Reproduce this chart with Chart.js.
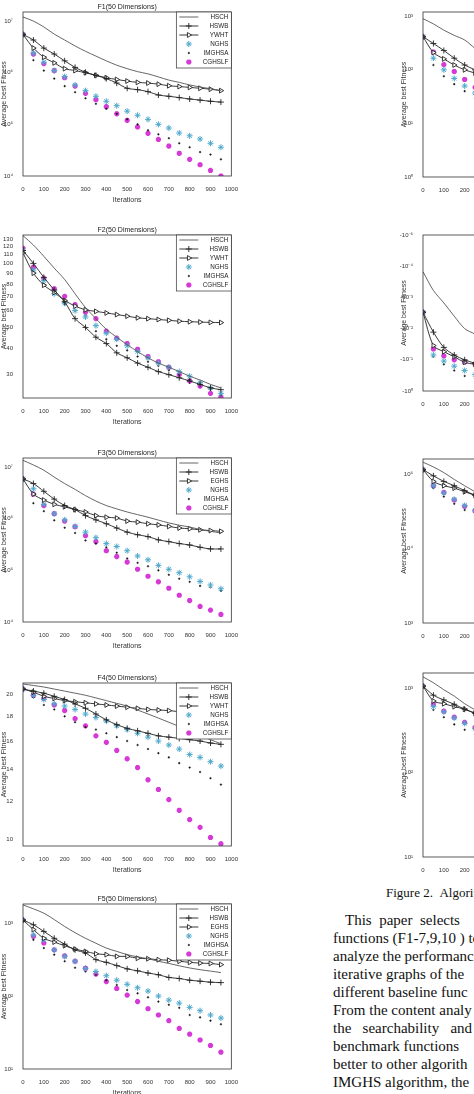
<!DOCTYPE html>
<html>
<head>
<meta charset="utf-8">
<script src="https://cdn.jsdelivr.net/npm/chart.js@4/dist/chart.umd.min.js"></script>
<style>
  html, body { margin:0; padding:0; background:#fff; width:474px; height:1094px; overflow:hidden; position:relative; }
  .box { position:absolute; }
  .txt { position:absolute; left:333px; top:911px; width:300px; font-family:"Liberation Serif","DejaVu Serif",serif; font-size:15px; line-height:18px; color:#111; white-space:nowrap; }
  .cap { position:absolute; left:386px; top:885px; font-family:"Liberation Serif",serif; font-size:13px; color:#111; white-space:nowrap; }
</style>
</head>
<body>
<div class="cap">Figure 2.&nbsp;&nbsp;Algorithm convergence</div>
<div class="txt">
<div style="text-indent:12px">This&nbsp;&nbsp;paper&nbsp;&nbsp;selects</div>
<div>functions (F1-7,9,10 ) to</div>
<div>analyze the performance</div>
<div>iterative graphs of the</div>
<div>different baseline func</div>
<div>From the content analy</div>
<div>the&nbsp;&nbsp;&nbsp;searchability&nbsp;&nbsp;&nbsp;and</div>
<div>benchmark functions</div>
<div>better to other algorith</div>
<div>IMGHS algorithm, the</div>
</div>

<script>
// iterations sampled every 50
var iters = [0,50,100,150,200,250,300,350,400,450,500,550,600,650,700,750,800,850,900,950];
var namesA = ['HSCH','HSWB','YWHT','NGHS','IMGHSA','CGHSLF'];
var namesB = ['HSCH','HSWB','EGHS','NGHS','IMGHSA','CGHSLF'];

// F1
var f1HSCH   = [1.2e7,1e7,7.7e6,5.6e6,4.3e6,3.3e6,2.6e6,2.1e6,1.7e6,1.4e6,1.2e6,1.05e6,9.5e5,8.3e5,7.2e5,6.5e5,5.8e5,5.3e5,4.9e5,4.5e5];
var f1HSWB   = [5.5e6,4.3e6,3e6,2.3e6,1.7e6,1.27e6,1.02e6,8.9e5,7.7e5,6.3e5,5e5,4.7e5,4.3e5,3.7e5,3.5e5,3.3e5,3.1e5,2.95e5,2.8e5,2.7e5];
var f1YWHT   = [5.5e6,3e6,2e6,1.55e6,1.2e6,1.1e6,1e6,8.9e5,8e5,7.4e5,6.9e5,6.5e5,6.3e5,6e5,5.6e5,5.4e5,5.2e5,5e5,4.8e5,4.5e5];
var f1NGHS   = [5.5e6,2.4e6,1.6e6,1.1e6,8.4e5,5.8e5,4.5e5,3.5e5,2.8e5,2.3e5,1.8e5,1.5e5,1.25e5,1e5,8.5e4,6.8e4,6e4,5.2e4,4.3e4,3.6e4];
var f1IMGHSA = [5.5e6,1.75e6,1.1e6,7.7e5,5.5e5,4.2e5,3.2e5,2.5e5,2e5,1.6e5,1.25e5,1e5,7.7e4,6.4e4,5.4e4,4.3e4,3.6e4,2.9e4,2.6e4,2.1e4];
var f1CGHSLF = [5.5e6,2.3e6,1.5e6,1.1e6,8e5,5.5e5,4e5,3e5,2.2e5,1.6e5,1.2e5,8.9e4,6.7e4,5.1e4,3.8e4,2.75e4,2.1e4,1.65e4,1.28e4,1e4];
// F2
var f2HSCH   = [135,122,108,95,84,72,62,55,49,45,41.5,38.5,36,34,32.5,31,29.5,28.3,27,26];
var f2HSWB   = [115,100,86,75,66,55,50,45,42,38,36,34,32.5,31,30,29,28,27,26,25.5];
var f2YWHT   = [112,90,79,73,67,63,60.5,59.5,58.5,57.5,56.5,55.5,55,54.5,54,53.5,53.2,53,52.8,52.7];
var f2NGHS   = [115,93,83,72,65,60,56,51,47,44,41,38.5,36,34,32.5,31,29.5,27.5,26,24.5];
var f2IMGHSA = [118,91,80,72,64,60,57,48,44,41,39,36.5,34.5,33,31.5,30,28.5,27,25.5,24];
var f2CGHSLF = [118,96,85,76,70,64,59,55,48,44.5,42,39.5,36.5,34.5,32.5,30,28,26.5,24.5,23.5];
var f2Ticks  = [30,40,50,60,70,80,90,100,110,120,130];
// F3
var f3HSCH   = [1.35e7,1.1e7,8.7e6,6.4e6,4.8e6,3.7e6,2.8e6,2.2e6,1.8e6,1.55e6,1.35e6,1.2e6,1.07e6,9.4e5,8.3e5,7.5e5,6.9e5,6.2e5,5.7e5,5.3e5];
var f3HSWB   = [5.9e6,4.8e6,3.4e6,2.4e6,1.8e6,1.5e6,1.15e6,9.5e5,8e5,6.6e5,5.5e5,4.9e5,4.5e5,3.9e5,3.6e5,3.3e5,3.1e5,2.8e5,2.6e5,2.6e5];
var f3EGHS   = [5.9e6,3e6,2.3e6,1.9e6,1.7e6,1.5e6,1.35e6,1.15e6,1.07e6,1.03e6,9e5,8.6e5,8e5,7.6e5,7.1e5,6.6e5,6.4e5,6.1e5,5.9e5,5.7e5];
var f3NGHS   = [5.9e6,3.8e6,1.9e6,1.25e6,9.5e5,7.1e5,5.5e5,4.3e5,3.3e5,2.9e5,2.4e5,1.9e5,1.6e5,1.25e5,1.05e5,9e4,7.5e4,6.1e4,5.2e4,4.4e4];
var f3IMGHSA = [5.9e6,2e6,1.4e6,9.3e5,6.7e5,5.3e5,3.8e5,3.3e5,2.8e5,2.2e5,1.7e5,1.4e5,1.2e5,1e5,8.2e4,6.9e4,6e4,5e4,4.7e4,4e4];
var f3CGHSLF = [5.9e6,3e6,1.8e6,1.25e6,9e5,7e5,4.7e5,3.6e5,2.4e5,1.85e5,1.45e5,1.05e5,7.7e4,6e4,4.5e4,3.3e4,2.6e4,2e4,1.7e4,1.4e4];
// F4
var f4HSCH   = [21.0,20.85,20.7,20.5,20.3,20.1,19.9,19.65,19.4,19.15,18.9,18.55,18.2,17.85,17.5,17.15,16.8,16.45,16.1,15.8];
var f4HSWB   = [20.5,20.3,20.1,19.8,19.5,19.1,18.7,18.2,17.7,17.3,17.0,16.8,16.6,16.4,16.3,16.2,16.1,16.0,15.85,15.75];
var f4YWHT   = [20.5,20.2,19.8,19.6,19.4,19.3,19.2,19.1,19.0,18.9,18.8,18.7,18.6,18.55,18.5,18.4,18.3,18.25,18.2,18.1];
var f4NGHS   = [20.5,19.9,19.5,19.1,18.9,18.6,18.2,17.9,17.6,17.2,16.9,16.6,16.3,16.0,15.7,15.4,15.0,14.8,14.5,14.2];
var f4IMGHSA = [20.5,19.7,19.0,18.6,18.0,17.5,17.1,16.9,16.6,16.3,16.0,15.7,15.4,15.1,14.8,14.4,14.1,13.8,13.4,13.0];
var f4CGHSLF = [20.5,19.9,19.6,19.0,18.5,17.8,17.2,16.4,15.9,15.3,14.7,14.1,13.3,12.7,12.1,11.5,11.0,10.6,10.1,9.8];
var f4Ticks  = [10,12,14,16,18,20];
// F5
var f5HSCH   = [1780,1570,1370,1120,900,740,620,530,455,410,370,345,325,300,280,260,243,230,220,210];
var f5HSWB   = [1100,950,770,620,515,430,390,316,290,262,236,222,207,196,180,174,165,160,155,153];
var f5EGHS   = [1100,815,620,550,490,440,410,380,370,350,350,330,325,315,310,300,290,283,280,270];
var f5NGHS   = [1100,690,590,430,350,300,240,217,190,165,145,130,117,100,88,80,70,63,55,50];
var f5IMGHSA = [1100,590,455,370,300,245,217,196,165,142,121,109,96,84,76,69,55,51,46,41];
var f5CGHSLF = [1100,660,535,430,355,300,240,200,158,127,103,84,67,55,46,36,30,25,21,17];
// right column (only iterations 0-250 visible)
var r1HSCH=[900,720,550,440,360,250], r1HSWB=[415,310,230,165,123,100], r1EGHS=[415,210,160,123,100,87];
var r1NGHS=[415,165,100,69,50,37], r1IMGHSA=[415,123,76,54,40,29], r1CGHSLF=[415,215,125,93,66,47];
var r2HSCH=[1.5e-4,6e-4,1.5e-3,4e-3,1e-2,1.5e-2], r2HSWB=[3e-3,1.3e-2,4e-2,7e-2,0.1,0.13], r2EGHS=[3e-3,3.5e-2,5.5e-2,8e-2,0.12,0.14];
var r2NGHS=[3e-3,7e-2,0.11,0.16,0.22,0.3], r2IMGHSA=[3e-3,0.08,0.14,0.22,0.33,0.4], r2CGHSLF=[3e-3,4.5e-2,7.5e-2,0.1,0.12,0.14];
var r3HSCH=[1.45e5,1.25e5,1.05e5,8.5e4,7e4,5.8e4], r3HSWB=[1.15e5,9.5e4,8e4,7e4,6e4,5.2e4], r3EGHS=[1.15e5,8e4,7e4,6.5e4,5.8e4,5.2e4];
var r3NGHS=[1.15e5,7e4,5.6e4,4.6e4,3.8e4,3.3e4], r3IMGHSA=[1.15e5,6.5e4,5e4,4e4,3.3e4,2.8e4], r3CGHSLF=[1.15e5,7e4,5.7e4,4.5e4,3.7e4,3.2e4];
var r4HSCH=[1350,1150,950,800,650,550], r4HSWB=[1050,820,720,640,560,500], r4EGHS=[1050,700,650,600,560,500];
var r4NGHS=[1050,600,520,440,380,330], r4IMGHSA=[1050,550,450,370,320,280], r4CGHSLF=[1050,640,530,450,390,340];

var FONT = 'Liberation Sans';
var SUP = {'-':'⁻','0':'⁰','1':'¹','2':'²','3':'³','4':'⁴','5':'⁵','6':'⁶','7':'⁷','8':'⁸','9':'⁹'};
function pow10(e) { return '10' + String(e).split('').map(function(c){ return SUP[c]; }).join(''); }

var styles = [
  { color:'#555', pointStyle:false, radius:0, bw:0.9, line:true },
  { color:'#222', pointStyle:'cross', radius:3, bw:0.9, line:true },
  { color:'#222', pointStyle:'triangle', radius:2.8, bw:0.9, line:true, rot:90, fill:'#fff' },
  { color:'#4fa8cc', pointStyle:'star', radius:3, bw:1, line:false },
  { color:'#111', pointStyle:'circle', radius:0.8, bw:0.5, line:false },
  { color:'#d63ad6', pointStyle:'star', radius:2.6, bw:1.8, line:false }
];

var frame = {
  id:'frame',
  afterDraw: function(chart) {
    var a = chart.chartArea, c = chart.ctx;
    c.save(); c.strokeStyle = '#333'; c.lineWidth = 0.8;
    c.strokeRect(a.left, a.top, a.right - a.left, a.bottom - a.top);
    c.restore();
    var o = chart.options.plugins.box || {};
    if (o.title) {
      c.save(); c.fillStyle = '#222'; c.font = '7px ' + FONT; c.textAlign = 'center';
      c.fillText(o.title, (a.left + a.right) / 2, a.top - 3); c.restore();
    }
    if (o.names) {
      var w = 55, h = 56, x = a.right - w, y = a.top;
      c.save(); c.fillStyle = '#fff'; c.strokeStyle = '#333'; c.lineWidth = 0.7;
      c.fillRect(x, y, w, h); c.strokeRect(x, y, w, h);
      o.names.forEach(function(n, i) {
        var s = styles[i], yy = y + 5 + i * 9;
        c.strokeStyle = s.color; c.fillStyle = s.fill || s.color; c.lineWidth = s.line ? 0.9 : s.bw;
        if (s.line) { c.beginPath(); c.moveTo(x + 3, yy); c.lineTo(x + 22, yy); c.stroke(); }
        if (s.pointStyle) Chart.helpers.drawPoint(c, { pointStyle:s.pointStyle, radius:s.radius, rotation:s.rot || 0, borderWidth:s.bw }, x + 12.5, yy);
        c.fillStyle = '#222'; c.font = '6.3px ' + FONT; c.textAlign = 'right'; c.textBaseline = 'middle';
        c.fillText(n, x + w - 3, yy);
      });
      c.restore();
    }
  }
};

function makeChart(left, plotTop, plotH, series, opt) {
  var div = document.createElement('div');
  div.className = 'box';
  var H = plotH + 12 + 28;
  div.style.left = left + 'px'; div.style.top = (plotTop - 12) + 'px';
  div.style.width = '240px'; div.style.height = H + 'px';
  var cv = document.createElement('canvas');
  div.appendChild(cv); document.body.appendChild(div);
  var xs = iters.slice(0, series[0].length);
  var ds = series.map(function(arr, i) {
    var s = styles[i];
    return {
      label: (opt.names || namesA)[i],
      data: arr.map(function(v, j){ return { x: xs[j], y: v }; }),
      borderColor: s.color, backgroundColor: s.fill || s.color,
      borderWidth: s.line ? 0.9 : 0, showLine: s.line,
      pointStyle: s.pointStyle, pointRadius: s.radius, pointBorderWidth: s.bw,
      pointRotation: s.rot || 0, tension: 0.3
    };
  });
  var yScale = {
    type: 'logarithmic', min: opt.min, max: opt.max, reverse: !!opt.neg,
    grid: { display:false },
    border: { display:false },
    title: { display:true, text:'Average best Fitness', font:{ family:FONT, size:7 }, color:'#333', padding:0 },
    ticks: {
      font: { family:FONT, size:6 }, color:'#333', padding:2, autoSkip:false,
      callback: function(v) {
        if (opt.ticks) return String(v);
        var e = Math.log10(v);
        if (Math.abs(e - Math.round(e)) > 1e-6) return '';
        return (opt.neg ? '-' : '') + pow10(Math.round(e));
      }
    },
    afterFit: function(s){ s.width = 23; }
  };
  if (opt.ticks) yScale.afterBuildTicks = function(s){ s.ticks = opt.ticks.map(function(v){ return { value:v }; }); };
  new Chart(cv, {
    type: 'line',
    data: { datasets: ds },
    options: {
      responsive:true, maintainAspectRatio:false, animation:false,
      layout: { padding: { top:12, right:7, left:0, bottom:0 } },
      plugins: { legend:{ display:false }, tooltip:{ enabled:false },
                 box: { title: opt.title, names: opt.legend ? (opt.names || namesA) : null } },
      scales: {
        x: { type:'linear', min:0, max:1000, grid:{ display:false }, border:{ display:false },
             title:{ display:true, text:'Iterations', font:{ family:FONT, size:7 }, color:'#333', padding:0 },
             ticks:{ stepSize:100, font:{ family:FONT, size:6 }, color:'#333', padding:2, maxRotation:0,
                     callback: function(v){ return String(v); } },
             afterFit: function(s){ s.height = 28; } },
        y: yScale
      }
    },
    plugins: [frame]
  });
}

makeChart(0, 12, 164, [f1HSCH,f1HSWB,f1YWHT,f1NGHS,f1IMGHSA,f1CGHSLF], { min:1e4, max:1.5e7, title:'F1(50 Dimensions)', legend:true });
makeChart(0, 235, 163, [f2HSCH,f2HSWB,f2YWHT,f2NGHS,f2IMGHSA,f2CGHSLF], { min:23.3, max:136, ticks:f2Ticks, title:'F2(50 Dimensions)', legend:true });
makeChart(0, 458, 164, [f3HSCH,f3HSWB,f3EGHS,f3NGHS,f3IMGHSA,f3CGHSLF], { min:1e4, max:1.5e7, title:'F3(50 Dimensions)', legend:true, names:namesB });
makeChart(0, 683, 163, [f4HSCH,f4HSWB,f4YWHT,f4NGHS,f4IMGHSA,f4CGHSLF], { min:9.7, max:21.1, ticks:f4Ticks, title:'F4(50 Dimensions)', legend:true });
makeChart(0, 904, 165, [f5HSCH,f5HSWB,f5EGHS,f5NGHS,f5IMGHSA,f5CGHSLF], { min:10, max:1830, title:'F5(50 Dimensions)', legend:true, names:namesB });

makeChart(400, 12, 165, [r1HSCH,r1HSWB,r1EGHS,r1NGHS,r1IMGHSA,r1CGHSLF], { min:1, max:1200 });
makeChart(400, 235, 156, [r2HSCH,r2HSWB,r2EGHS,r2NGHS,r2IMGHSA,r2CGHSLF], { min:1e-5, max:1, neg:true });
makeChart(400, 459, 164, [r3HSCH,r3HSWB,r3EGHS,r3NGHS,r3IMGHSA,r3CGHSLF], { min:1e3, max:1.6e5 });
makeChart(400, 673, 184, [r4HSCH,r4HSWB,r4EGHS,r4NGHS,r4IMGHSA,r4CGHSLF], { min:10, max:1500 });
</script>
</body>
</html>
